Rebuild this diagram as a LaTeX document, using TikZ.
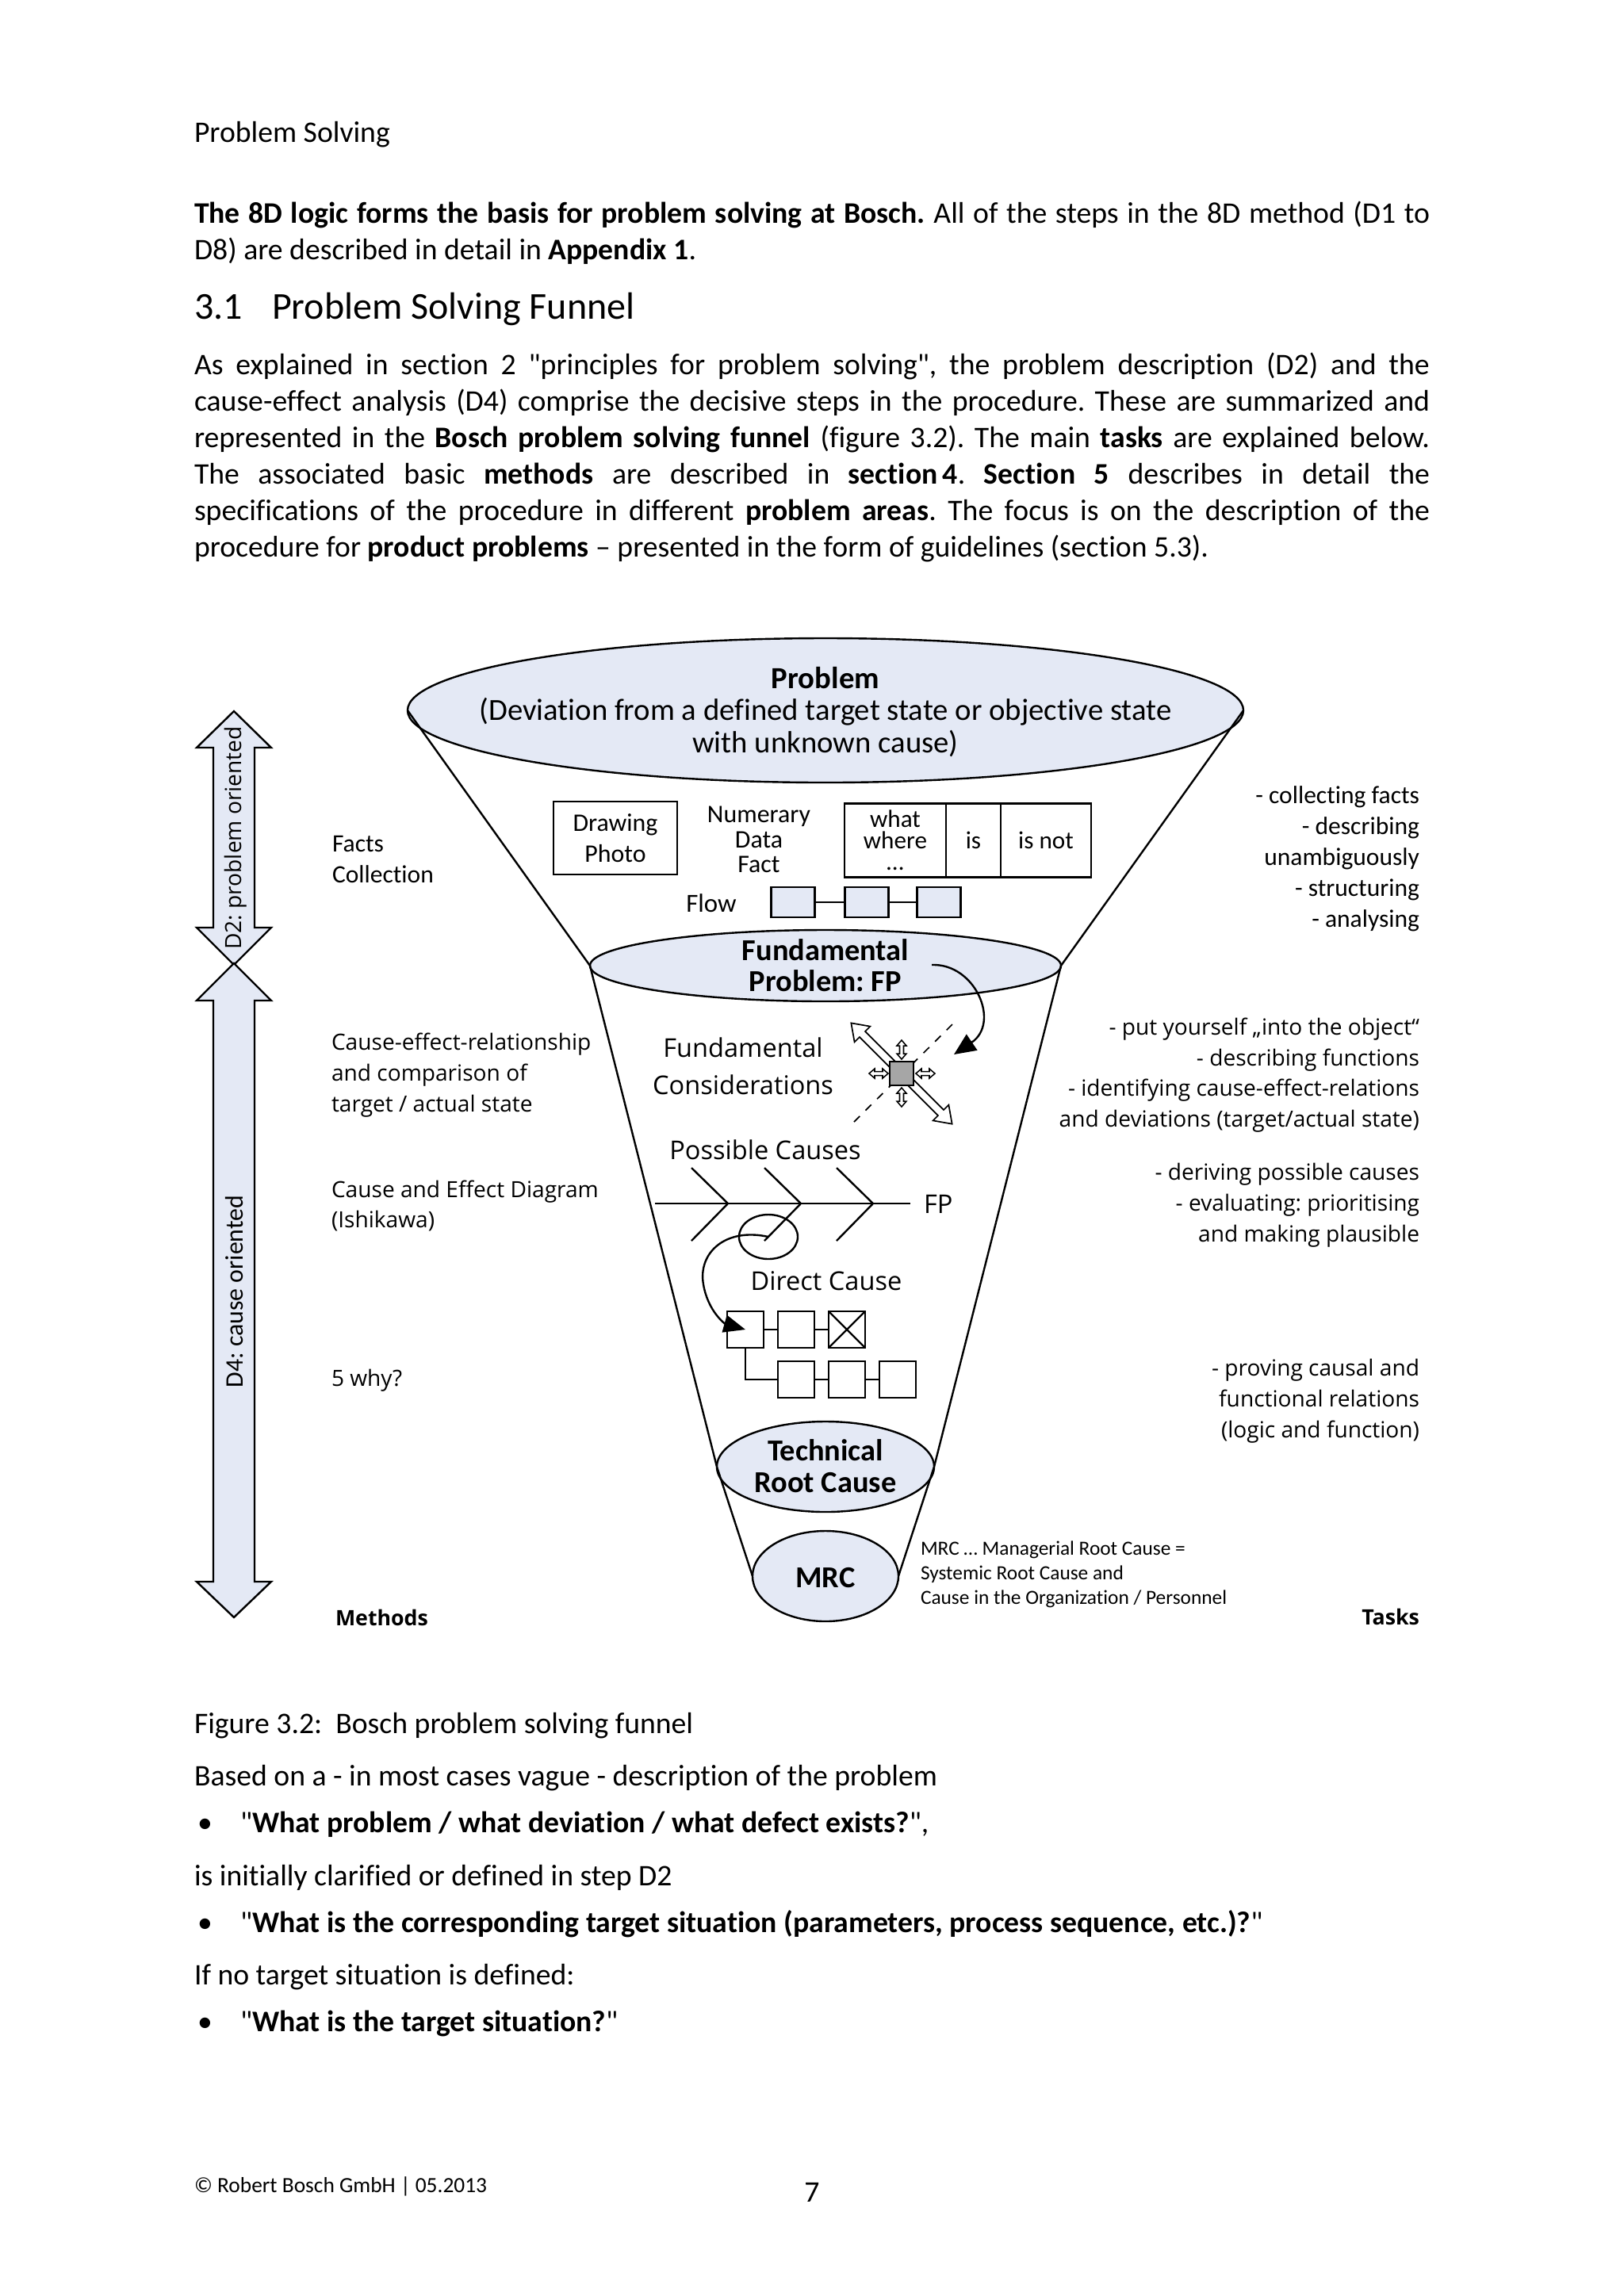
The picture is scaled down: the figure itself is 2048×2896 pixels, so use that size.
\documentclass[tikz,border=0pt]{standalone}
\usepackage{fontspec}
\setmainfont{Carlito}[Ligatures={TeXOff,CommonOff}]
\newfontfamily\osans{Open Sans}
\usetikzlibrary{arrows.meta,shapes.geometric}
\definecolor{fillb}{RGB}{228,233,245}
\newcommand{\pxu}{0.29176pt}
\newdimen\bodyw \bodyw=15.976cm
\newcommand{\dblarr}[4]{(#1,0) -- ({#1-#2},#3) -- ({#1-#2},#4) -- ({-#1+#2},#4) -- ({-#1+#2},#3) -- (-#1,0) -- ({-#1+#2},-#3) -- ({-#1+#2},-#4) -- ({#1-#2},-#4) -- ({#1-#2},-#3) -- cycle}
\frenchspacing
\begin{document}
\begin{tikzpicture}[x=0.010254cm, y=-0.010254cm,
  every node/.style={inner sep=0pt, outer sep=0pt},
  lw/.style={line width=0.7pt},
  body/.style={font=\fontsize{11}{13.4}\selectfont},
  calnine/.style={font=\fontsize{9.2}{11.2}\selectfont},
  osm/.style={font=\osans\fontsize{8.2}{11.3}\selectfont},
  osl/.style={font=\osans\fontsize{9.5}{13.7}\selectfont},
  boldel/.style={font=\bfseries\fontsize{11.2}{11.4}\selectfont, align=center},
  blueell/.style={draw, lw, fill=fillb, ellipse},
  dbox/.style={draw, lw, minimum width=46*\pxu, minimum height=46*\pxu},
  fbox/.style={draw, lw, fill=fillb, minimum width=55*\pxu, minimum height=38*\pxu}]
\useasboundingbox[fill=white] (0,0) rectangle (2048,2896);

% ---------- page text ----------
\node[body, anchor=west] (hdr) at (245,170) {\strut Problem Solving};
\node[body, anchor=west] (p1a) at (245,272) {\hbox to \bodyw{\strut\textbf{The 8D logic forms the basis for problem solving at Bosch.} All of the steps in the 8D method (D1 to}};
\node[body, anchor=west] (p1b) at (245,318) {\strut D8) are described in detail in \textbf{Appendix 1}.};
\node[font=\fontsize{14}{16}\selectfont, anchor=west] (secnum) at (245,392) {\strut 3.1};
\node[font=\fontsize{14}{16}\selectfont, anchor=west] (sectit) at (343,392) {\strut Problem Solving Funnel};
\node[body, anchor=west] (p2a) at (245,463) {\hbox to \bodyw{\strut As explained in section 2 "principles for problem solving", the problem description (D2) and the}};
\node[body, anchor=west] (p2b) at (245,509) {\hbox to \bodyw{\strut cause-effect analysis (D4) comprise the decisive steps in the procedure. These are summarized and}};
\node[body, anchor=west] (p2c) at (245,555) {\hbox to \bodyw{\strut represented in the \textbf{Bosch problem solving funnel} (figure 3.2). The main \textbf{tasks} are explained below.}};
\node[body, anchor=west] (p2d) at (245,601) {\hbox to \bodyw{\strut The associated basic \textbf{methods} are described in \textbf{section\,4}. \textbf{Section 5} describes in detail the}};
\node[body, anchor=west] (p2e) at (245,647) {\hbox to \bodyw{\strut specifications of the procedure in different \textbf{problem areas}. The focus is on the description of the}};
\node[body, anchor=west] (p2f) at (245,693) {\strut procedure for \textbf{product problems} – presented in the form of guidelines (section 5.3).};

% ---------- side arrows ----------
\filldraw[lw, fill=fillb] (295,897) -- (342,943) -- (321,943) -- (321,1170) -- (342,1170) -- (295,1217) -- (248,1170) -- (269,1170) -- (269,943) -- (248,943) -- cycle;
\filldraw[lw, fill=fillb] (295,1215) -- (342,1262) -- (321,1262) -- (321,1995) -- (342,1995) -- (295,2040) -- (248,1995) -- (269,1995) -- (269,1262) -- (248,1262) -- cycle;
\node[rotate=90, font=\osans\fontsize{8.2}{10}\selectfont] (d2lab) at (297,1057) {D2: problem oriented};
\node[rotate=90, font=\fontsize{9.3}{11}\selectfont] (d4lab) at (296,1629) {D4: cause oriented};

% ---------- funnel ----------
\node[blueell, minimum width=1054*\pxu, minimum height=182*\pxu] (top) at (1041,896) {};
\node[blueell, minimum width=594*\pxu, minimum height=90*\pxu] (fund) at (1041,1218) {};
\node[blueell, minimum width=274*\pxu, minimum height=114*\pxu] (trc) at (1041,1850) {};
\node[blueell, minimum width=184*\pxu, minimum height=114*\pxu] (mrc) at (1041,1988) {};
\draw[lw] (top.west) -- (fund.west) -- (trc.west) -- (mrc.west);
\draw[lw] (top.east) -- (fund.east) -- (trc.east) -- (mrc.east);

\node[font=\fontsize{11.3}{11.7}\selectfont, align=center] (toptxt) at (1041,898) {\textbf{Problem}\\(Deviation from a defined target state or objective state\\with unknown cause)};
\node[boldel] (fundtxt) at (1041,1218) {Fundamental\\Problem: FP};
\node[boldel, font=\bfseries\fontsize{11.2}{11.7}\selectfont] (trctxt) at (1041,1849) {Technical\\Root Cause};
\node[boldel] (mrctxt) at (1041,1990) {MRC};

% facts collection area
\node[draw, lw, minimum width=156*\pxu, minimum height=92*\pxu, align=center, font=\fontsize{9.3}{11.4}\selectfont] (drawbox) at (776,1057) {Drawing\\Photo};
\node[align=center, font=\fontsize{9.3}{9.2}\selectfont] (numtxt) at (957,1059) {Numerary\\Data\\Fact};
\node[draw, lw, minimum width=128*\pxu, minimum height=93*\pxu, align=center, font=\fontsize{9.1}{7.9}\selectfont] (w1) at (1129,1060) {what\\where\\…};
\node[draw, lw, minimum width=69*\pxu, minimum height=93*\pxu, font=\fontsize{9.1}{11}\selectfont] (w2) at (1227.5,1060) {is};
\node[draw, lw, minimum width=114*\pxu, minimum height=93*\pxu, font=\fontsize{9.1}{11}\selectfont] (w3) at (1319,1060) {is not};
\node[font=\fontsize{9.6}{11}\selectfont] (flowtxt) at (897,1139) {Flow};
\node[fbox] (f1) at (1000,1138) {};
\node[fbox] (f2) at (1093,1138) {};
\node[fbox] (f3) at (1184,1138) {};
\draw[lw] (f1.east) -- (f2.west) (f2.east) -- (f3.west);

% fundamental considerations
\coordinate (fpa) at (1175,1217);
\coordinate (fpb) at (1203,1330);
\draw[lw, -{Triangle[length=8pt, width=7pt]}] (fpa) .. controls (1230,1215) and (1262,1290) .. (fpb);
\node[osl, align=center] (fctxt) at (937,1345) {Fundamental\\Considerations};
\begin{scope}[shift={(1137,1354)}]
  \draw[line width=0.5pt, dashed] (64,-62) -- (-61,62);
  \filldraw[line width=0.5pt, fill=white, rotate=-45] \dblarr{90}{20}{14}{5};
  \filldraw[line width=0.45pt, fill=white, shift={(0,-30)}, rotate=90] \dblarr{12}{7}{6}{2.5};
  \filldraw[line width=0.45pt, fill=white, shift={(0,30)}, rotate=90] \dblarr{12}{7}{6}{2.5};
  \filldraw[line width=0.45pt, fill=white, shift={(-29,0)}] \dblarr{12}{7}{6}{2.5};
  \filldraw[line width=0.45pt, fill=white, shift={(30,0)}] \dblarr{12}{7}{6}{2.5};
  \filldraw[line width=0.6pt, fill=black!35] (-15,-15) rectangle (15,15);
\end{scope}

% possible causes (fishbone)
\node[osl] (pctxt) at (965,1450) {Possible Causes};
\coordinate (sp0) at (826,1518);
\coordinate (sp1) at (1148,1518);
\draw[lw] (sp0) -- (sp1);
\foreach \a in {918,1010,1101} \draw[lw] ({\a-46},1473) -- (\a,1518) -- ({\a-46},1565);
\node[osl, anchor=west] (fptxt) at (1165,1519) {FP};
\node[draw, lw, ellipse, minimum width=74*\pxu, minimum height=56*\pxu] (dcell) at (969,1560) {};

% direct cause
\node[osl] (dctxt) at (1042,1616) {Direct Cause};
\node[dbox] (b1) at (940,1677) {};
\node[dbox] (b2) at (1004,1677) {};
\node[dbox] (b3) at (1068,1677) {};
\node[dbox] (c1) at (1004,1740) {};
\node[dbox] (c2) at (1068,1740) {};
\node[dbox] (c3) at (1132,1740) {};
\draw[lw] (b3.north west) -- (b3.south east) (b3.north east) -- (b3.south west);
\draw[lw] (b1.east) -- (b2.west) (b2.east) -- (b3.west);
\draw[lw] (c1.east) -- (c2.west) (c2.east) -- (c3.west);
\draw[lw] (b1.south) |- (c1.west);
\draw[lw, -{Triangle[length=8pt, width=6.5pt]}] (dcell.center) .. controls (915,1548) and (880,1580) .. (887,1620) .. controls (893,1655) and (915,1670) .. (b1.center);

% MRC note
\node[anchor=west, align=left, font=\fontsize{7.4}{9}\selectfont] (mrcnote) at (1161,1986) {MRC … Managerial Root Cause =\\Systemic Root Cause and\\Cause in the Organization / Personnel};

% ---------- methods (left) ----------
\node[calnine, anchor=west, align=left] (m1) at (419,1084) {Facts\\Collection};
\node[osm, anchor=west, align=left] (m2) at (418,1356) {Cause-effect-relationship\\and comparison of\\target / actual state};
\node[osm, anchor=west, align=left] (m3) at (418,1521) {Cause and Effect Diagram\\(Ishikawa)};
\node[osm, anchor=west] (m4) at (418,1741) {5 why?};
\node[font=\osans\bfseries\fontsize{7.8}{10}\selectfont, anchor=west] (meth) at (423,2040) {Methods};

% ---------- tasks (right) ----------
\node[calnine, anchor=east, align=right, font=\fontsize{9.2}{11.4}\selectfont] (t1) at (1790,1083) {- collecting facts\\- describing\\unambiguously\\- structuring\\- analysing};
\node[osm, anchor=east, align=right] (t2) at (1790,1356) {- put yourself „into the object“\\- describing functions\\- identifying cause-effect-relations\\and deviations (target/actual state)};
\node[osm, anchor=east, align=right] (t3) at (1790,1520) {- deriving possible causes\\- evaluating: prioritising\\and making plausible};
\node[osm, anchor=east, align=right] (t4) at (1790,1767) {- proving causal and\\functional relations\\(logic and function)};
\node[font=\osans\bfseries\fontsize{7.8}{10}\selectfont, anchor=east] (tasks) at (1790,2039) {Tasks};

% ---------- caption and text below ----------
\node[body, anchor=west] (cap) at (245,2177) {\strut Figure 3.2:\ \ Bosch problem solving funnel};
\node[body, anchor=west] (q0) at (245,2243) {\strut Based on a - in most cases vague - description of the problem};
\node[body, anchor=west] (bul1) at (249,2302) {\strut •};
\node[body, anchor=west] (q1) at (303,2302) {\strut "\textbf{What problem / what deviation / what defect exists?}",};
\node[body, anchor=west] (q2) at (245,2369) {\strut is initially clarified or defined in step D2};
\node[body, anchor=west] (bul2) at (249,2428) {\strut •};
\node[body, anchor=west] (q3) at (303,2428) {\strut "\textbf{What is the corresponding target situation (parameters, process sequence, etc.)?}"};
\node[body, anchor=west] (q4) at (245,2494) {\strut If no target situation is defined:};
\node[body, anchor=west] (bul3) at (249,2553) {\strut •};
\node[body, anchor=west] (q5) at (303,2553) {\strut "\textbf{What is the target situation?}"};

% ---------- footer ----------
\node[font=\fontsize{8}{10}\selectfont, anchor=west] (foot) at (245,2758) {© Robert Bosch GmbH | 05.2013};
\node[body] (pgno) at (1024,2765) {7};
\end{tikzpicture}
\end{document}
